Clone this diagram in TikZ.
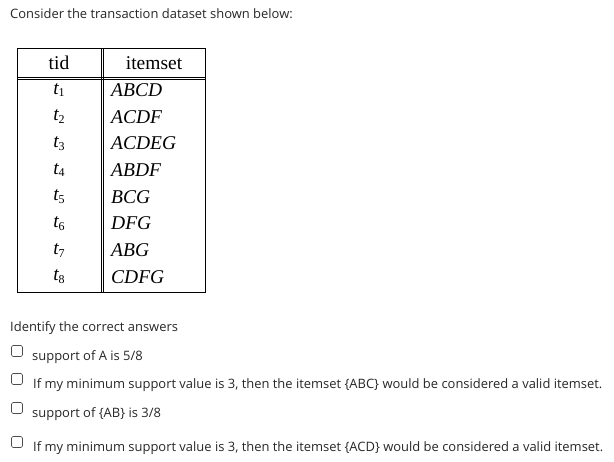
\documentclass[tikz,border=0pt]{standalone}
\usepackage{fontspec}
\setmainfont{Open Sans}
\newfontfamily\tabfont{Liberation Serif}
\begin{document}
\begin{tikzpicture}[x=1pt,y=-1pt,
  txt/.style={anchor=west,inner sep=0pt,font=\fontsize{12.95}{14}\selectfont,text=black!85},
  cell/.style={inner sep=0pt,font=\tabfont\fontsize{19.5}{21}\selectfont},
  cbox/.style={draw=black!70,rounded corners=1.5pt,minimum size=11pt,inner sep=0pt,line width=0.7pt}]
\useasboundingbox (0,0) rectangle (614,462);
\node[txt] (t0) at (10,14) {Consider the transaction dataset shown below:};
% table
\draw[line width=1pt] (17,49) rectangle (205,293);
\draw[line width=0.6pt] (17,77) -- (205,77);
\draw[line width=0.6pt] (17,79.5) -- (205,79.5);
\draw[line width=0.6pt] (101,49) -- (101,293);
\draw[line width=0.6pt] (103.5,49) -- (103.5,293);
\node[cell] (h1) at (59,63) {tid};
\node[cell] (h2) at (154,63) {itemset};
\foreach \i/\s [count=\k] in {1/ABCD,2/ACDF,3/ACDEG,4/ABDF,5/BCG,6/DFG,7/ABG,8/CDFG}{
  \node[cell] (r\k a) at (59,{90+26.7*(\k-1)}) {{\tabfont\itshape t}\raisebox{-0.3ex}{\tabfont\upshape\fontsize{12}{12}\selectfont\i}};
  \node[cell,anchor=west] (r\k b) at (111,{90+26.7*(\k-1)}) {{\tabfont\itshape\s}};
}
\node[txt] (q) at (10,328) {Identify the correct answers};
\node[cbox] (c1) at (17,351) {};
\node[txt] (o1) at (32,357) {support of A is 5/8};
\node[cbox] (c2) at (17,379) {};
\node[txt] (o2) at (33,385) {If my minimum support value is 3, then the itemset \{ABC\} would be considered a valid itemset.};
\node[cbox] (c3) at (17,408) {};
\node[txt] (o3) at (32,414) {support of \{AB\} is 3/8};
\node[cbox] (c4) at (17,442) {};
\node[txt] (o4) at (33,448) {If my minimum support value is 3, then the itemset \{ACD\} would be considered a valid itemset.};
\end{tikzpicture}
\end{document}
